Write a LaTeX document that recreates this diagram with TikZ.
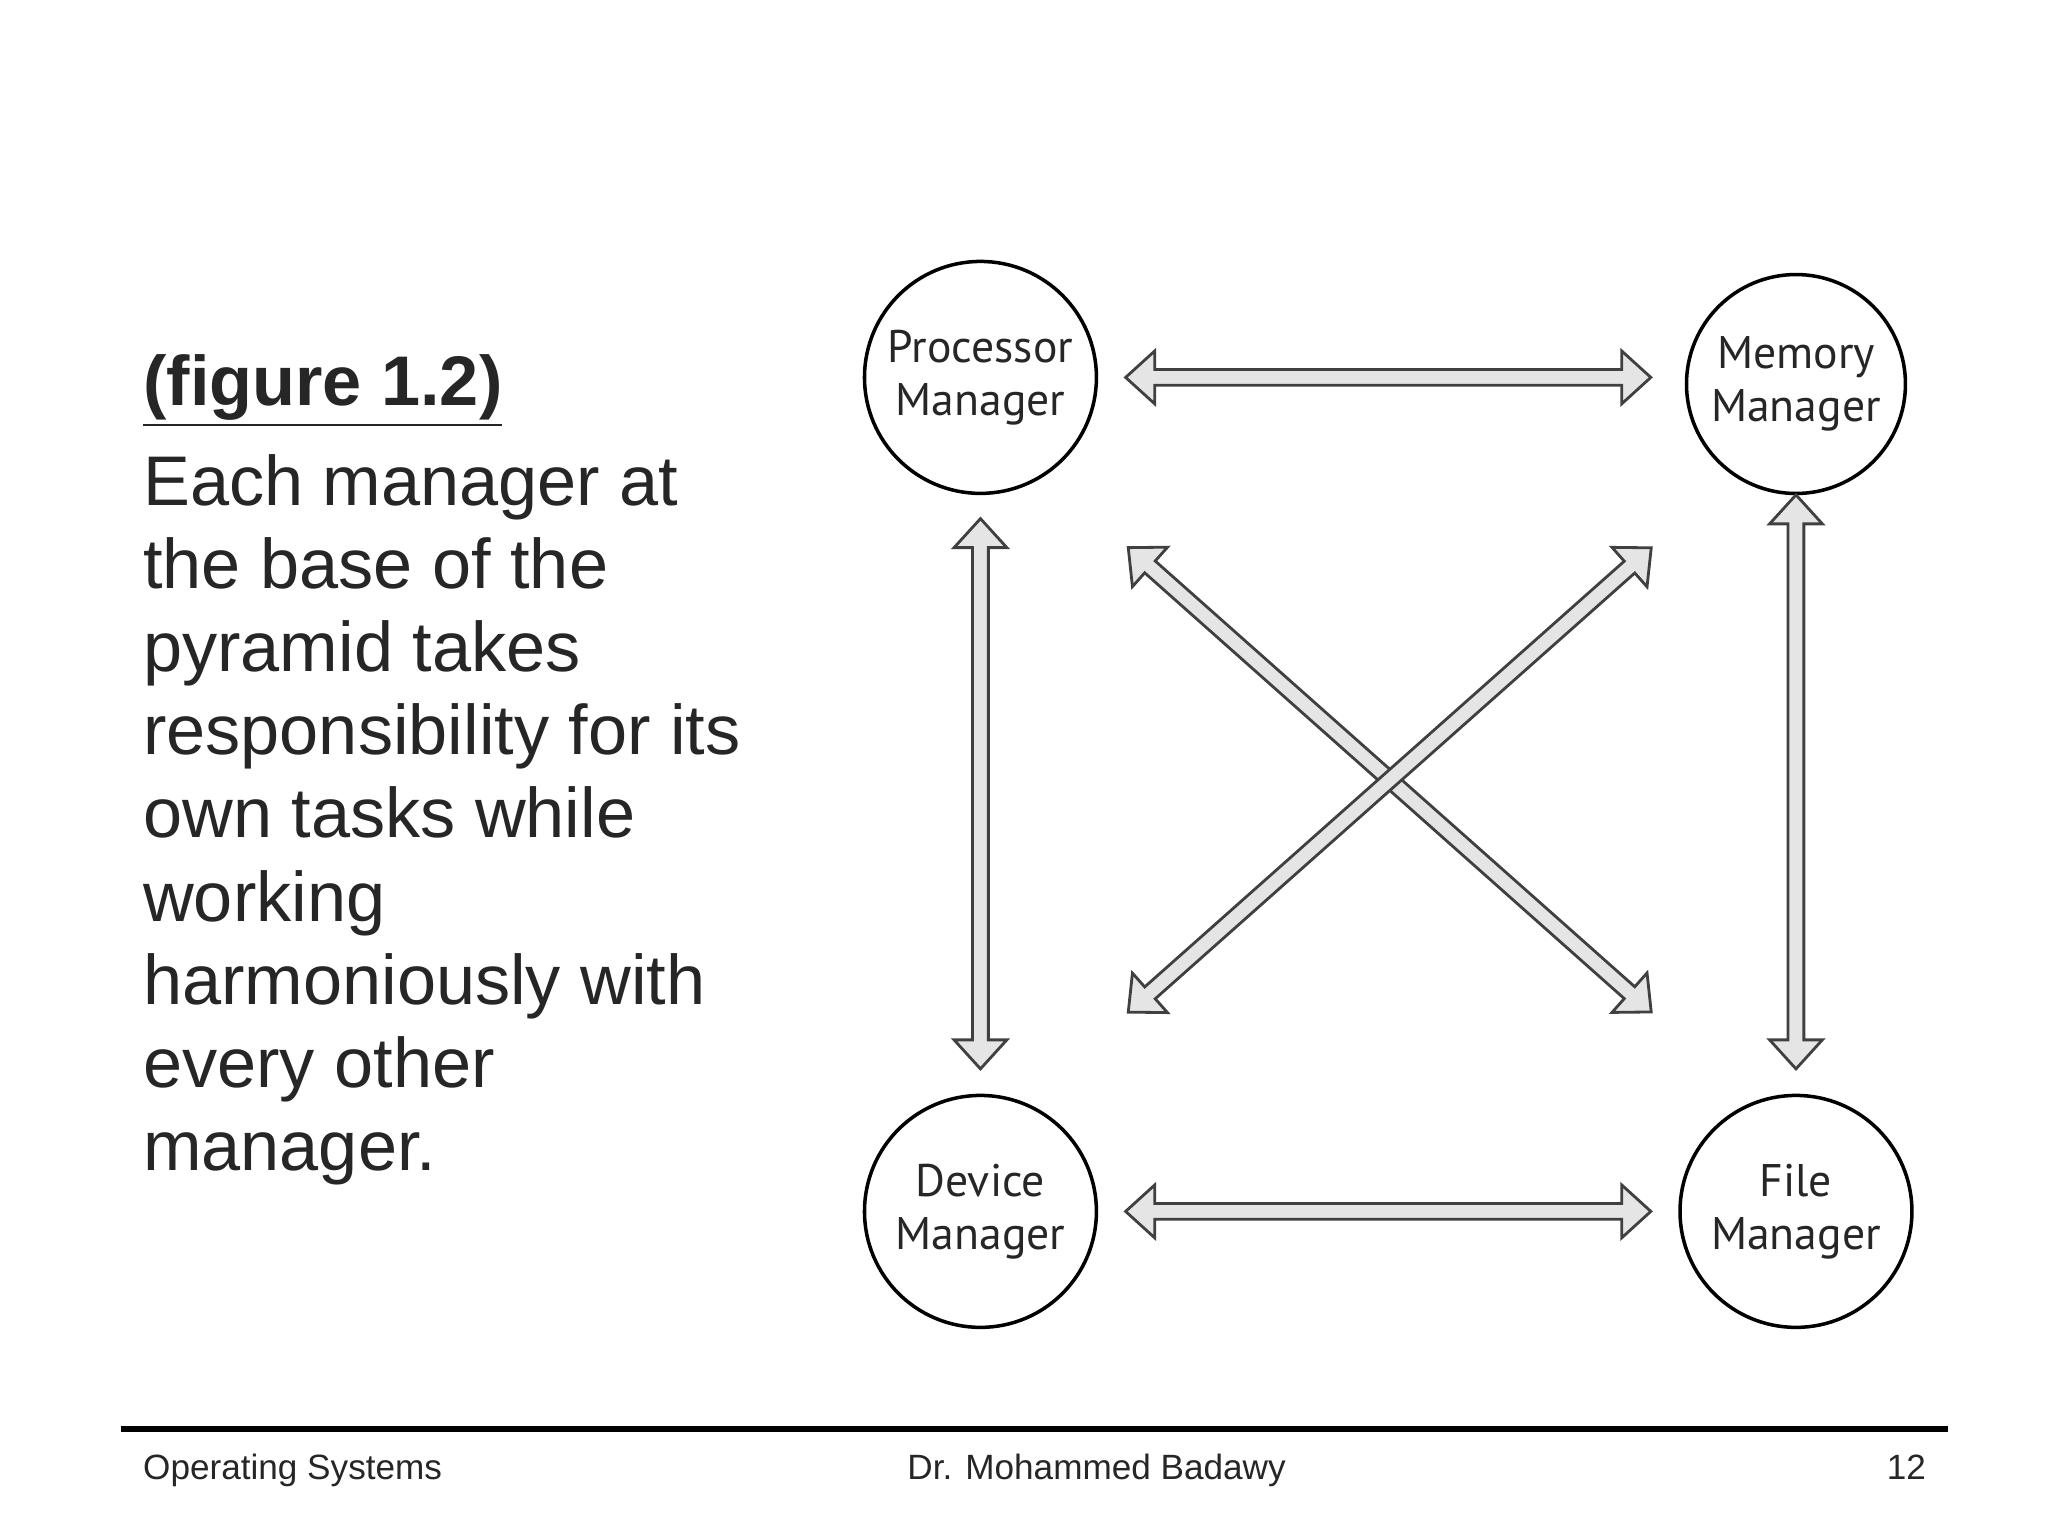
\documentclass[tikz,border=0pt]{standalone}
\usepackage{fontspec}
\setmainfont{Liberation Sans}
\newfontfamily\cfont{PT Sans}
\begin{document}
\begin{tikzpicture}[x=0.013196cm,y=-0.013196cm,
  mgr/.style={circle,draw,line width=1pt,inner sep=0pt,font=\cfont\fontsize{13}{15}\selectfont,align=center,text=black!85},
  arr/.style={draw=black!75,fill=black!10,line width=0.8pt,line join=miter},
  body/.style={anchor=base west,inner sep=0pt,font=\fontsize{20}{24}\selectfont,text=black!85},
  foot/.style={inner sep=0pt,font=\fontsize{10}{12}\selectfont,text=black!85}]
\useasboundingbox (0,0) rectangle (1552,1164);
\newcommand\dbl[4]{\begin{scope}[shift={(#1,#2)},rotate=-#3]
 \path[arr] (0,0) -- (22,20) -- (22,6) -- (#4-22,6) -- (#4-22,20) -- (#4,0) -- (#4-22,-20) -- (#4-22,-6) -- (22,-6) -- (22,-20) -- cycle;
 \end{scope}}
\node[mgr,minimum size=2.32cm] (pm) at (743,286) {Processor\\Manager};
\node[mgr,minimum size=2.19cm] (mm) at (1361,291) {Memory\\Manager};
\node[mgr,minimum size=2.32cm] (dm) at (743,918) {Device\\Manager};
\node[mgr,minimum size=2.32cm] (fm) at (1361,918) {File\\Manager};
\dbl{853}{286}{0}{398}
\dbl{853}{918}{0}{398}
\dbl{743}{393}{90}{417}
\dbl{1361}{375}{90}{435}
\dbl{855}{415}{41.6}{530}
\dbl{855}{767}{-41.6}{530}
\node[body,font=\bfseries\fontsize{20}{24}\selectfont] (t) at (108,307) {\underline{(figure 1.2)}};
\foreach \s [count=\i] in {Each manager at,the base of the,pyramid takes,responsibility for its,own tasks while,working,harmoniously with,every other,manager.}
  \node[body] (b\i) at (108,{320+63*\i}) {\s};
\draw[line width=1.6pt] (92,1083) -- (1476,1083);
\node[foot,anchor=base west] (f1) at (108,1121) {Operating Systems};
\node[foot,anchor=base] (f2) at (831,1121) {Dr. Mohammed Badawy};
\node[foot,anchor=base east] (f3) at (1460,1121) {12};
\end{tikzpicture}
\end{document}
